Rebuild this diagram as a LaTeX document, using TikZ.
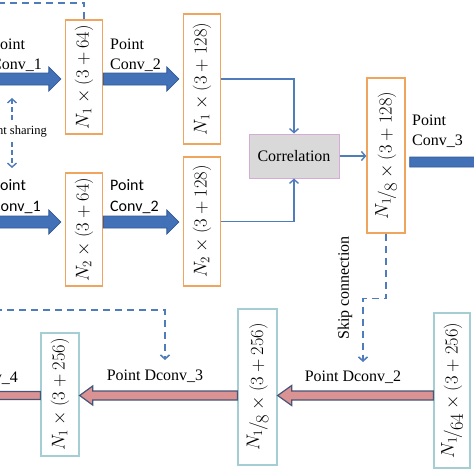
\documentclass[tikz,border=0pt]{standalone}
\usepackage{fix-cm}
\usepackage{fontspec}
\setmainfont{Liberation Serif}
\newfontfamily\carlito{Carlito}
\usetikzlibrary{arrows.meta,calc}
\definecolor{obord}{RGB}{240,165,95}
\definecolor{tbord}{RGB}{165,205,212}
\definecolor{cfill}{RGB}{217,217,217}
\definecolor{cbord}{RGB}{215,170,215}
\definecolor{lblue}{RGB}{79,124,186}
\definecolor{bfill}{RGB}{66,113,184}
\definecolor{bedge}{RGB}{50,88,150}
\definecolor{pfill}{RGB}{218,146,146}
\definecolor{pedge}{RGB}{70,85,120}
\newcommand\slfrac[2]{\raisebox{.45ex}{$#1$}\kern-.08em$/$\kern-.04em\raisebox{-.6ex}{$#2$}}
\newcommand\bigarrow[6]{%
  \filldraw[#1] let \p1=#2, \p2=#3, \n1={ifthenelse(\x2>\x1,1,-1)} in
    (\x1,\y2+#4) -- (\x2-\n1*#6,\y2+#4) -- (\x2-\n1*#6,\y2+#5) -- (\x2,\y2)
    -- (\x2-\n1*#6,\y2-#5) -- (\x2-\n1*#6,\y2-#4) -- (\x1,\y2-#4) -- cycle;}
\tikzset{
  big/.style={font=\fontsize{16}{20}\selectfont},
  mth/.style={font=\fontsize{18.5}{21}\selectfont},
  obox/.style={draw=obord, line width=1.3pt, fill=white, inner sep=0pt, minimum width=37pt, mth},
  tbox/.style={draw=tbord, line width=1.3pt, fill=white, inner sep=0pt, minimum width=38pt, mth},
  corr/.style={draw=cbord, line width=1pt, fill=cfill, minimum width=90pt, minimum height=44pt, inner sep=0pt, big},
  lbl/.style={big, inner sep=0pt, align=left},
  bluearr/.style={fill=bfill, draw=bedge, line width=0.8pt},
  pinkarr/.style={fill=pfill, draw=pedge, line width=1.2pt},
  conn/.style={draw=lblue, line width=1.4pt, -{Straight Barb[length=4pt,width=9pt]}},
  dashln/.style={draw=lblue, line width=1.6pt, dash pattern=on 7pt off 5pt},
  dtip/.style={-{Straight Barb[length=4pt,width=9pt]}}
}
\begin{document}
\begin{tikzpicture}[x=1pt,y=-1pt]
\useasboundingbox (0,0) rectangle (474,474);
\clip (0,0) rectangle (474,474);
% boxes
\node[obox, minimum height=114pt] (A1) at (84,77) {\rotatebox{90}{$N_1\times(3+64)$}};
\node[obox, minimum height=130pt] (B1) at (202,79) {\rotatebox{90}{$N_1\times(3+128)$}};
\node[obox, minimum height=113pt] (A2) at (84,229.5) {\rotatebox{90}{$N_2\times(3+64)$}};
\node[obox, minimum height=129pt] (B2) at (202,221.5) {\rotatebox{90}{$N_2\times(3+128)$}};
\node[corr] (Cr) at (294,156) {Correlation};
\node[obox, minimum width=38pt, minimum height=155pt] (C) at (386,155.5) {\rotatebox{90}{\slfrac{N_1}{8}$\mathord{}\times(3+128)$}};
\node[tbox, minimum width=36pt, minimum height=155pt] (D) at (452,390.5) {\rotatebox{90}{\slfrac{N_1}{64}$\mathord{}\times(3+256)$}};
\node[tbox, minimum width=39pt, minimum height=156pt] (E) at (257.5,387) {\rotatebox{90}{\slfrac{N_1}{8}$\mathord{}\times(3+256)$}};
\node[tbox, minimum height=123pt] (F) at (60,394.5) {\rotatebox{90}{$N_1\times(3+256)$}};
% row coordinates and free ends
\coordinate (r1) at (0,79);
\coordinate (r2) at (0,222);
\coordinate (r3) at (0,162);
\coordinate (r4) at (0,395.5);
\coordinate (L1) at (-5,79);
\coordinate (L2) at (-5,222);
\coordinate (R3) at (495,162);
\coordinate (L4) at (-30,395.5);
% big arrows
\bigarrow{bluearr}{(L1)}{([xshift=-4pt]A1.west |- r1)}{6pt}{12pt}{12pt}
\bigarrow{bluearr}{(A1.east |- r1)}{([xshift=-4pt]B1.west |- r1)}{6pt}{12pt}{12pt}
\bigarrow{bluearr}{(L2)}{([xshift=-4pt]A2.west |- r2)}{6pt}{12pt}{12pt}
\bigarrow{bluearr}{(A2.east |- r2)}{([xshift=-4pt]B2.west |- r2)}{6pt}{12pt}{12pt}
\bigarrow{bluearr}{([xshift=4pt]C.east |- r3)}{(R3)}{5pt}{11pt}{12pt}
\bigarrow{pinkarr}{(D.west |- r4)}{(E.east |- r4)}{4.5pt}{10pt}{14pt}
\bigarrow{pinkarr}{(E.west |- r4)}{(F.east |- r4)}{4.5pt}{9.5pt}{13pt}
\bigarrow{pinkarr}{(F.west |- r4)}{(L4)}{4pt}{10pt}{13pt}
% thin connectors
\draw[conn] (B1.east) -| (Cr.north);
\draw[conn] (B2.east) -| (Cr.south);
\draw[conn] (Cr.east) -- (Cr.east -| C.west);
% dashed lines
\coordinate (TL) at (-5,2.5);
\draw[dashln, line width=2pt] (A1.north) |- (TL);
\coordinate (BL) at (-5,310);
\coordinate (K1) at (165,360);
\draw[dashln, dtip] (BL) -| (K1);
\coordinate (K2) at (363,362);
\draw[dashln, dtip] (C.south) -- ++(0,65) -| (K2);
\coordinate (W1) at (12,120);
\coordinate (W1t) at (12,98);
\coordinate (W2) at (12,142);
\coordinate (W2t) at (12,168);
\draw[dashln, line width=1.4pt, dash pattern=on 5pt off 3pt, dtip] (W1) -- (W1t);
\draw[dashln, line width=1.4pt, dash pattern=on 5pt off 3pt, dtip] (W2) -- (W2t);
% labels
\node[lbl, anchor=west] (t1) at (-9,55) {Point\\Conv\_1};
\node[lbl, anchor=west] (t2) at (110,55) {Point\\Conv\_2};
\node[lbl, anchor=west, font=\carlito\fontsize{16}{21}\selectfont] (t3) at (-8,196.5) {Point\\Conv\_1};
\node[lbl, anchor=west, font=\carlito\fontsize{16}{21}\selectfont] (t4) at (110,196.5) {Point\\Conv\_2};
\node[lbl, anchor=west] (t5) at (412,131.5) {Point\\Conv\_3};
\node[inner sep=0pt, anchor=east, font=\fontsize{12.5}{14}\selectfont] (ws) at (47,132) {Weight sharing};
\node[big, inner sep=0pt, rotate=90] (sk) at (345,288) {Skip connection};
\node[big, inner sep=0pt] (d2) at (353,377) {Point Dconv\_2};
\node[big, inner sep=0pt] (d3) at (155,376) {Point Dconv\_3};
\node[big, inner sep=0pt, anchor=east] (d4) at (18,378) {Point Dconv\_4};
\end{tikzpicture}
\end{document}
